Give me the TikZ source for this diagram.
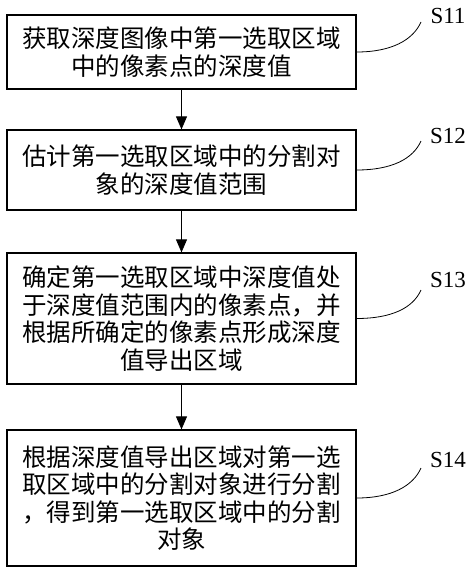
\documentclass[tikz,border=0pt]{standalone}
\usepackage{fontspec}
\setmainfont{Liberation Serif}
\newfontfamily\cjk{Noto Sans CJK SC}
\usetikzlibrary{arrows.meta}

\begin{document}
\begin{tikzpicture}[x=1pt, y=-1pt]
            \tikzstyle{stepbox} = [draw, line width=1.2pt, minimum width=349pt,
                align=center, inner sep=0pt,
                font=\cjk\fontsize{24.5}{27.5}\selectfont]
            \tikzstyle{steplabel} = [font=\fontsize{23}{23}\selectfont, inner sep=0pt]
            \tikzstyle{flow} = [line width=0.8pt, -{Triangle[length=13pt, width=11pt]}]
            \tikzstyle{hook} = [line width=0.8pt]
            \useasboundingbox (0, 0) rectangle (474, 573);

            \node[stepbox, minimum height=74pt] (s11) at (181.5, 52)
                {获取深度图像中第一选取区域\\中的像素点的深度值};
            \node[stepbox, minimum height=80pt] (s12) at (181.5, 170)
                {估计第一选取区域中的分割对\\象的深度值范围};
            \node[stepbox, minimum height=131pt] (s13) at (181.5, 318.5)
                {确定第一选取区域中深度值处\\于深度值范围内的像素点，并\\根据所确定的像素点形成深度\\值导出区域};
            \node[stepbox, minimum height=136pt] (s14) at (181.5, 498)
                {根据深度值导出区域对第一选\\取区域中的分割对象进行分割\\，得到第一选取区域中的分割\\对象};

            \draw[flow] (s11) -- (s12);
            \draw[flow] (s12) -- (s13);
            \draw[flow] (s13) -- (s14);

            % step labels
            \node[steplabel] (l11) at (448, 15.5) {S11};
            \node[steplabel] (l12) at (448, 135.5) {S12};
            \node[steplabel] (l13) at (448, 279.5) {S13};
            \node[steplabel] (l14) at (448, 460) {S14};
            \coordinate (e11) at (421, 22);
            \coordinate (e12) at (421, 141);
            \coordinate (e13) at (421, 290);
            \coordinate (e14) at (421, 468);

            \draw[hook] (s11.east) .. controls +(35, 0) and +(-8, 18) .. (e11);
            \draw[hook] (s12.east) .. controls +(35, 0) and +(-8, 18) .. (e12);
            \draw[hook] (s13.east) .. controls +(35, 0) and +(-8, 18) .. (e13);
            \draw[hook] (s14.east) .. controls +(35, 0) and +(-8, 18) .. (e14);
        \end{tikzpicture}
\end{document}
